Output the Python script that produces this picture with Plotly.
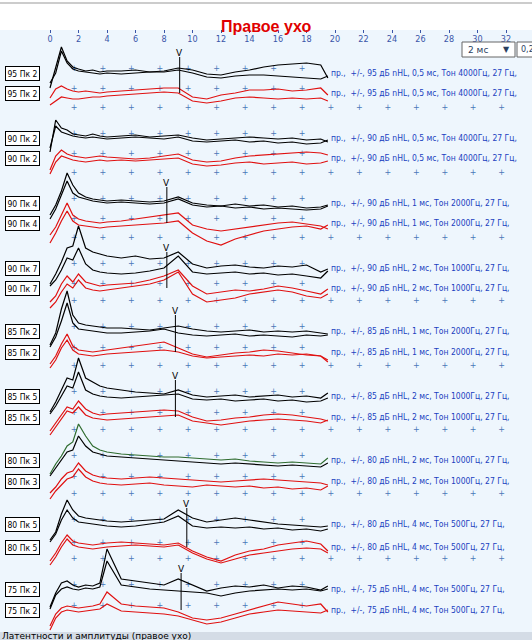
import plotly.graph_objects as go

T = [0,0.4,0.8,1.2,1.6,2,2.5,3,3.5,4,5,6,7,8,9,10,11,12,13,14,15,16,17,18,19,19.5]

LEVELS = ["95 Пк 2","90 Пк 2","90 Пк 4","90 Пк 7","85 Пк 2","85 Пк 5","80 Пк 3","80 Пк 5","75 Пк 2"]
INFO = [
 "пр.,  +/-, 95 дБ nHL, 0,5 мс, Тон 4000Гц, 27 Гц,",
 "пр.,  +/-, 90 дБ nHL, 0,5 мс, Тон 4000Гц, 27 Гц,",
 "пр.,  +/-, 90 дБ nHL, 1 мс, Тон 2000Гц, 27 Гц,",
 "пр.,  +/-, 90 дБ nHL, 2 мс, Тон 1000Гц, 27 Гц,",
 "пр.,  +/-, 85 дБ nHL, 1 мс, Тон 2000Гц, 27 Гц,",
 "пр.,  +/-, 85 дБ nHL, 2 мс, Тон 1000Гц, 27 Гц,",
 "пр.,  +/-, 80 дБ nHL, 2 мс, Тон 1000Гц, 27 Гц,",
 "пр.,  +/-, 80 дБ nHL, 4 мс, Тон 500Гц, 27 Гц,",
 "пр.,  +/-, 75 дБ nHL, 4 мс, Тон 500Гц, 27 Гц,",
]
V_LAT = [9.1, None, 8.2, 8.2, 8.8, 8.8, None, 9.6, 9.2]

BLACK1 = [
 [-15,5,26,12,6,4,2,3,1,2,2,3,1,2,5,3,-1,-2,1,3,6,8,9,10,8,-5],
 [-14,18,10,8,4,3,2,4,2,1,2,3,1,2,3,0,-2,-1,0,1,0,-1,0,-2,-1,-4],
 [-12,-2,12,30,18,10,6,4,3,2,3,2,1,2,6,0,-2,-3,-1,-3,-2,-4,-3,-5,-4,-2],
 [-16,-6,6,20,22,42,20,16,14,12,10,12,9,10,16,4,0,2,3,1,0,2,1,3,-4,-1],
 [-14,-2,22,40,16,8,6,5,4,3,3,2,1,3,5,2,0,-1,0,1,-1,0,-1,0,-2,-3],
 [-16,-6,6,18,16,38,18,14,10,8,6,4,3,2,6,1,-1,0,1,-1,0,1,-1,0,-2,3],
 [-14,-4,4,14,18,36,24,14,10,8,6,5,4,3,3,2,1,0,1,-1,-2,-3,-2,-3,-4,2],
 [-16,-8,10,24,14,8,6,5,4,3,2,3,4,5,14,6,2,4,6,4,2,0,-1,-2,-3,-2],
 [-18,-4,6,8,4,2,4,3,6,40,10,8,6,4,10,4,-2,1,3,2,4,1,3,2,-1,3],
]
BLACK2 = [
 [-10,0,22,10,4,2,1,0,-1,0,-1,0,1,1,3,0,-4,-5,-3,-2,-2,-3,-4,-5,-6,-3],
 [-10,12,6,4,2,1,0,1,0,-1,0,1,0,-1,1,-3,-4,-3,-2,-4,-3,-5,-4,-6,-5,-2],
 [-16,-6,8,22,10,6,4,2,1,0,1,0,-1,0,4,-2,-4,-3,-5,-4,-6,-5,-6,-7,-6,-3],
 [-18,-12,-2,10,8,20,4,-2,-4,-5,-6,-5,-3,0,12,-4,-6,-5,-4,-6,-5,-7,-6,-8,-10,-3],
 [-16,-6,10,28,8,2,1,0,-1,-2,-2,-1,0,2,-2,-4,-5,-4,-3,-5,-4,-5,-6,-4,-5,-4],
 [-18,-10,0,10,8,24,6,2,0,-1,-2,-1,0,1,2,-3,-4,-3,-5,-4,-3,-5,-4,-6,-5,-2],
 [-16,-8,0,8,10,24,14,8,6,4,3,2,1,0,-1,-2,-3,-4,-3,-4,-5,-6,-5,-6,-7,-3],
 [-18,-10,4,14,6,2,1,0,-1,-2,-3,-2,0,2,8,-2,-4,-3,-4,-3,-5,-4,-6,-5,-7,-5],
 [-20,-6,0,2,0,-1,1,0,2,28,4,2,0,-1,-2,-3,-4,-7,-4,-2,-1,0,-1,0,-2,0],
]
RED1 = [
 [-5,4,7,4,2,1,2,1,0,1,2,3,4,5,5,-4,-6,-2,0,3,3,4,2,3,5,-2],
 [-12,2,8,4,2,1,0,1,2,1,0,-1,0,2,4,-2,-4,-3,0,2,3,4,5,6,5,3],
 [-12,-4,8,20,8,4,2,1,0,1,2,4,6,8,10,-2,-6,-8,-6,-4,-2,0,1,-1,-3,-6],
 [-14,-8,4,12,6,14,6,4,2,3,4,5,8,12,18,2,-6,-4,-2,-3,-1,2,0,-3,-6,-1],
 [-12,-4,8,18,6,2,1,0,1,2,4,6,8,10,4,-2,-5,-3,-1,0,2,1,-1,-3,-4,-10],
 [-14,-6,2,10,8,16,8,4,2,3,4,5,6,7,6,0,-4,-3,-1,0,2,3,2,0,-2,-4],
 [-12,-6,2,8,10,18,10,6,4,3,2,3,4,3,2,1,0,-1,0,1,2,1,0,-1,-2,-4],
 [-14,-6,4,12,6,4,3,2,3,4,5,4,3,2,4,-4,-10,-14,-8,-4,-2,2,4,6,3,-4],
 [-16,-4,2,4,3,2,3,4,6,18,6,4,3,2,-2,-8,-10,-8,-4,0,4,8,6,4,6,-2],
]
RED2 = [
 [-12,-8,-4,-5,-6,-6,-5,-4,-4,-3,-2,-1,0,1,0,-8,-10,-8,-5,-4,-5,-6,-5,-6,-5,-8],
 [-16,-4,2,0,-2,-3,-4,-3,-2,-3,-2,-3,-2,-1,0,-6,-8,-7,-5,-4,-6,-5,-4,-6,-5,-3],
 [-20,-10,2,12,2,-2,-3,-4,-5,-4,-3,-2,-1,0,2,-10,-18,-22,-16,-12,-8,-6,-4,-3,-6,-2],
 [-20,-14,-4,4,0,8,0,-2,-3,-2,0,2,4,8,16,-6,-14,-12,-10,-6,-4,-2,-4,-8,-10,-6],
 [-16,-8,4,12,2,-2,-3,-4,-3,-2,-1,0,1,2,0,-4,-6,-5,-4,-3,-4,-2,-3,-2,-4,-8],
 [-18,-10,-2,6,4,10,2,-1,-2,-3,-2,-1,0,1,2,-4,-6,-8,-6,-4,-3,-2,-3,-4,-6,-3],
 [-18,-10,-4,2,4,12,4,0,-2,-3,-4,-3,-2,-4,-5,-6,-4,-5,-6,-5,-7,-6,-8,-7,-9,-5],
 [-18,-10,0,8,2,0,-1,-2,-1,0,1,2,1,0,2,-6,-12,-16,-12,-8,-6,-4,-2,-1,-2,-6],
 [-20,-8,-2,0,-1,-2,-1,0,1,6,-1,-2,-3,-4,-6,-10,-14,-12,-8,-4,-2,0,-1,-2,-3,0],
]
BLACK_Y = [73,138,203,268,331,396,460,524,589]
RED_Y = [93,158,223,288,352,417,481,547,610]

PX0, PXS = 50, 14.25
Y0, Y1 = 30, 632

fig = go.Figure()
px, py = [], []
rows = [y for y in sorted(BLACK_Y + RED_Y + [y - 26 for y in BLACK_Y]) if y > 52]
for yy in rows:
    for k in range(1, 17):
        xm = 2*k - 0.3
        if 19.5 < xm < 34 and any(abs(yy - 4 - r) < 8 for r in BLACK_Y + RED_Y):
            continue
        px.append(xm); py.append(yy - 4)
fig.add_trace(go.Scatter(x=px, y=py, mode="text", text=["+"]*len(px), textfont=dict(size=8, color="#4a78b8"),
                         showlegend=False, hoverinfo="skip"))

for g in range(9):
    for i, arr in enumerate([BLACK1[g], BLACK2[g]]):
        col = "#2e6b2e" if (g == 6 and i == 0) else "black"
        fig.add_trace(go.Scatter(x=T, y=[BLACK_Y[g]-a for a in arr], mode="lines",
                                 line=dict(color=col, width=1.2), showlegend=False, hoverinfo="skip"))
    for arr in [RED1[g], RED2[g]]:
        fig.add_trace(go.Scatter(x=T, y=[RED_Y[g]-a for a in arr], mode="lines",
                                 line=dict(color="#e01010", width=1.2), showlegend=False, hoverinfo="skip"))
    for yy in (BLACK_Y[g], RED_Y[g]):
        fig.add_annotation(x=-1.95, y=yy, text=LEVELS[g], showarrow=False,
                           font=dict(size=8.5, color="black", family="DejaVu Sans Condensed"),
                           bgcolor="white", bordercolor="black", borderwidth=1, borderpad=1.5)
        fig.add_annotation(x=19.6, y=yy, text=INFO[g], showarrow=False, xanchor="left",
                           font=dict(size=8.5, color="#1a3fc0", family="DejaVu Sans Condensed"))
    if V_LAT[g] is not None:
        fig.add_annotation(x=V_LAT[g], y=BLACK_Y[g]-20, text="V", showarrow=False, font=dict(size=9, color="black"))
        fig.add_shape(type="line", x0=V_LAT[g], x1=V_LAT[g], y0=BLACK_Y[g]-16, y1=RED_Y[g], line=dict(color="black", width=1))

BG = "#eef6fd"
fig.update_layout(
    width=532, height=640, margin=dict(l=0, r=0, t=0, b=0, autoexpand=False),
    paper_bgcolor="white", plot_bgcolor=BG,
    xaxis=dict(range=[-PX0/PXS, (532-PX0)/PXS], side="top", tickvals=list(range(0, 36, 2)),
               tickfont=dict(size=9, color="#3a55a8", family="DejaVu Sans Condensed"),
               showgrid=False, zeroline=False, ticks="inside", ticklen=3, tickcolor="#3a55a8",
               ticklabelposition="inside", ticklabelstandoff=2),
    yaxis=dict(range=[Y1, Y0], visible=False, domain=[(640-Y1)/640, 1-Y0/640]),
    font=dict(family="DejaVu Sans"),
)
fig.add_shape(type="line", xref="paper", yref="paper", x0=0, x1=1, y0=1-3/640, y1=1-3/640, line=dict(color="#999", width=1))
fig.add_annotation(xref="paper", yref="paper", x=0.5, y=1-16/640, text="<b>Правое ухо</b>", showarrow=False,
                   font=dict(size=16, color="#e00000", family="Liberation Sans"))
fig.add_shape(type="rect", xref="paper", yref="paper", x0=0, x1=1, y0=0, y1=8/640, fillcolor="#d4dce6", line=dict(width=0))
fig.add_annotation(xref="paper", yref="paper", x=0.0, y=-3/640, xanchor="left", yanchor="bottom",
                   text="Латентности и амплитуды (правое ухо)", showarrow=False, font=dict(size=9, color="black"))
fig.add_shape(type="rect", xref="paper", yref="paper", x0=462/532, x1=515/532, y0=1-57/640, y1=1-42/640,
              fillcolor="white", line=dict(color="#666", width=1))
fig.add_annotation(xref="paper", yref="paper", x=466/532, y=1-49.5/640, xanchor="left", yanchor="middle",
                   text="2 мс", showarrow=False, font=dict(size=9))
fig.add_annotation(xref="paper", yref="paper", x=512/532, y=1-49.5/640, xanchor="right", yanchor="middle",
                   text="▼", showarrow=False, font=dict(size=8))
fig.add_shape(type="rect", xref="paper", yref="paper", x0=517/532, x1=1.02, y0=1-57/640, y1=1-42/640,
              fillcolor="white", line=dict(color="#666", width=1))
fig.add_annotation(xref="paper", yref="paper", x=519/532, y=1-49.5/640, xanchor="left", yanchor="middle",
                   text="0,2", showarrow=False, font=dict(size=8))

fig.write_html("out.html", config={"displayModeBar": False},
               post_script="document.body.style.margin='0';document.body.style.overflow='hidden';")
